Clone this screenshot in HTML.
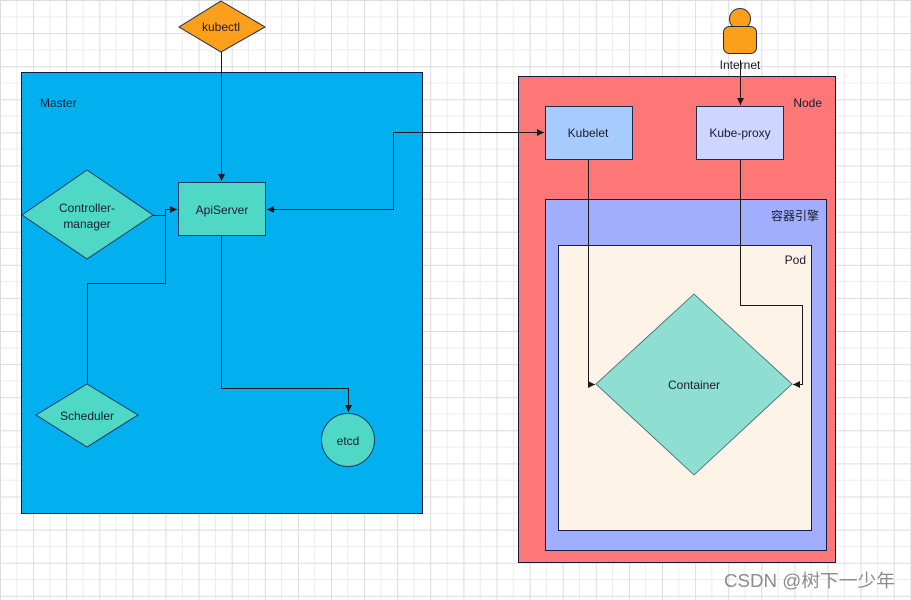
<!DOCTYPE html>
<html><head><meta charset="utf-8"><style>
html,body{margin:0;padding:0;background:#fff;}
svg{display:block;}
text{font-family:"Liberation Sans","Noto Sans CJK SC",sans-serif;font-size:12px;fill:#1a1a2e;}
</style></head><body>
<svg width="911" height="600" viewBox="0 0 911 600" xmlns="http://www.w3.org/2000/svg">
<defs>
<pattern id="g" x="0" y="0" width="33.1" height="33.1" patternUnits="userSpaceOnUse">
<line x1="16.8" y1="0" x2="16.8" y2="33.1" stroke="#ececec" stroke-width="1"/>
<line x1="0" y1="16.8" x2="33.1" y2="16.8" stroke="#ececec" stroke-width="1"/>
<line x1="0.5" y1="0" x2="0.5" y2="33.1" stroke="#dcdcdc" stroke-width="1"/>
<line x1="0" y1="0.5" x2="33.1" y2="0.5" stroke="#dcdcdc" stroke-width="1"/>
</pattern>
<marker id="a" markerWidth="8" markerHeight="8" refX="7" refY="4" orient="auto" markerUnits="userSpaceOnUse">
<path d="M0,0.5 L7,4 L0,7.5 Z" fill="#1a1a1a"/>
</marker>
</defs>
<rect width="911" height="600" fill="url(#g)"/>

<polygon points="221,1 265,27 221,52 179,27" fill="#fca01c" stroke="#1f2a50"/>
<text x="221" y="31" text-anchor="middle">kubectl</text>

<rect x="21.5" y="72.5" width="401" height="441" fill="#03b0ef" stroke="#141a40"/>
<text x="40" y="107">Master</text>

<polygon points="87,170 153,215 87,259 22,215" fill="#4fd8c5" stroke="#1f3a60"/>
<text x="87" y="212" text-anchor="middle">Controller-</text>
<text x="87" y="228" text-anchor="middle">manager</text>

<rect x="178.5" y="182.5" width="87" height="53" fill="#4fd8c5" stroke="#1f3a60"/>
<text x="222" y="214" text-anchor="middle">ApiServer</text>

<polygon points="87,384 138,415 87,447 36,415" fill="#4fd8c5" stroke="#1f3a60"/>
<text x="87" y="420" text-anchor="middle">Scheduler</text>

<circle cx="348" cy="440" r="26.5" fill="#4fd8c5" stroke="#1f3a60"/>
<text x="348" y="445" text-anchor="middle">etcd</text>

<rect x="518.5" y="76.5" width="317" height="486" fill="#fe7777" stroke="#141a40"/>
<text x="822" y="107" text-anchor="end">Node</text>
<rect x="545.5" y="106.5" width="87" height="53" fill="#a8cbfe" stroke="#1f2a50"/>
<text x="588" y="137" text-anchor="middle">Kubelet</text>
<rect x="696.5" y="106.5" width="87" height="53" fill="#ced5fe" stroke="#1f2a50"/>
<text x="740" y="137" text-anchor="middle">Kube-proxy</text>

<rect x="545.5" y="199.5" width="281" height="351" fill="#a1aefe" stroke="#141a40"/>
<text x="819" y="220" text-anchor="end">容器引擎</text>
<rect x="558.5" y="245.5" width="253" height="285" fill="#fef3e7" stroke="#141a40"/>
<text x="806" y="264" text-anchor="end">Pod</text>
<polygon points="694,294 792,384 694,475 596,384" fill="#8edfd2" stroke="#3a5a70" stroke-width="0.8"/>
<text x="694" y="389" text-anchor="middle">Container</text>

<circle cx="740" cy="19" r="10.5" fill="#fca01c" stroke="#1f2a50"/>
<rect x="723.5" y="26.5" width="33" height="27" rx="6" fill="#fca01c" stroke="#1f2a50"/>
<text x="740" y="69" text-anchor="middle">Internet</text>

<g fill="none" stroke="#1a1a1a" stroke-width="1">
<path d="M221.5,52 V181" marker-end="url(#a)"/>
<path d="M153,215.5 H165.5 V209.5 H177" marker-end="url(#a)"/>
<path d="M87.5,384 V283.5 H165.5 V209.5"/>
<path d="M221.5,236 V388.5 H348.5 V412" marker-end="url(#a)"/>
<path d="M393.5,132.5 V209.5 H267" marker-end="url(#a)"/>
<path d="M393.5,132.5 H544" marker-end="url(#a)"/>
<path d="M740.5,60 V105" marker-end="url(#a)"/>
<path d="M588.5,160 V384.5 H595" marker-end="url(#a)"/>
<path d="M740.5,160 V305.5 H802.5 V384.5 H793" marker-end="url(#a)"/>
</g>

<text x="724" y="587" textLength="171" lengthAdjust="spacingAndGlyphs" style="font-size:18px;fill:#8c8c8c;">CSDN @树下一少年</text>
</svg>
</body></html>
